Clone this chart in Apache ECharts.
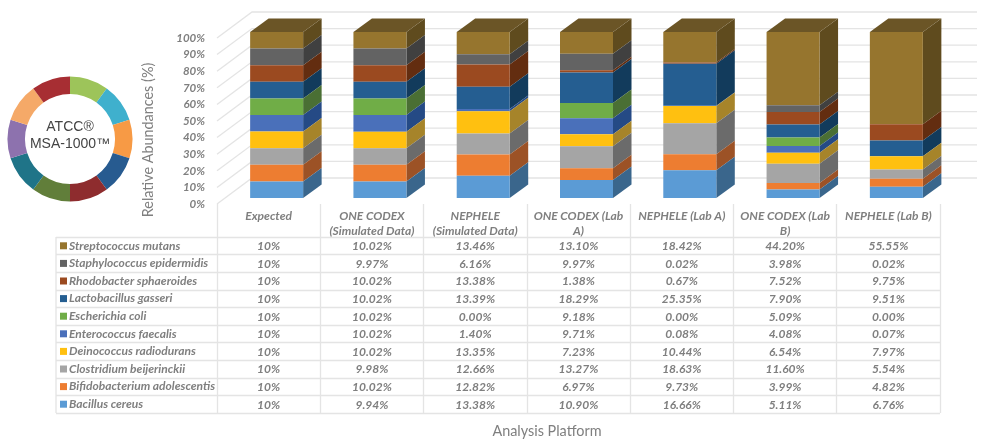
<!DOCTYPE html>
<html><head><meta charset="utf-8">
<style>html,body{margin:0;padding:0;background:#fff}#c{width:1000px;height:444px}</style>
<script src="https://cdn.jsdelivr.net/npm/echarts@6/dist/echarts.min.js"></script>
</head><body><div id="c"></div>
<script>
const platforms = ['Expected','ONE CODEX\n(Simulated Data)','NEPHELE\n(Simulated Data)','ONE CODEX (Lab\nA)','NEPHELE (Lab A)','ONE CODEX (Lab\nB)','NEPHELE (Lab B)'];
const species = ['Streptococcus mutans','Staphylococcus epidermidis','Rhodobacter sphaeroides','Lactobacillus gasseri','Escherichia coli','Enterococcus faecalis','Deinococcus radiodurans','Clostridium beijerinckii','Bifidobacterium adolescentis','Bacillus cereus'];
const streptococcus = [10,10.02,13.46,13.10,18.42,44.20,55.55];
const staphylococcus = [10,9.97,6.16,9.97,0.02,3.98,0.02];
const rhodobacter = [10,10.02,13.38,1.38,0.67,7.52,9.75];
const lactobacillus = [10,10.02,13.39,18.29,25.35,7.90,9.51];
const escherichia = [10,10.02,0.00,9.18,0.00,5.09,0.00];
const enterococcus = [10,10.02,1.40,9.71,0.08,4.08,0.07];
const deinococcus = [10,10.02,13.35,7.23,10.44,6.54,7.97];
const clostridium = [10,9.98,12.66,13.27,18.63,11.60,5.54];
const bifidobacterium = [10,10.02,12.82,6.97,9.73,3.99,4.82];
const bacillus = [10,9.94,13.38,10.90,16.66,5.11,6.76];
const rows = [streptococcus,staphylococcus,rhodobacter,lactobacillus,escherichia,enterococcus,deinococcus,clostridium,bifidobacterium,bacillus];
const frontColors = ['#96752e','#636363','#9b4a20','#255e91','#70ad47','#4a70ba','#ffc010','#a5a5a5','#ed7d31','#5b9bd5'];
const sideColors = ['#5f4b1e','#404040','#632d10','#123b5c','#4a6f34','#254a85','#a6842a','#6b6b6b','#9c5226','#3a668c'];
const topColor = '#6b5526';
const yTicks = [0,10,20,30,40,50,60,70,80,90,100];
const ringColors = ['#9dc45a','#3fb0cd','#f79a45','#275b90','#8e2c2e','#617e3a','#1f7488','#8d72ae','#f5a968','#a72e33'];

const GREY = '#7f7f7f', LINE = '#e4e4e4';
const FONT = 'Lato';
const BAR_W = 53, DX = 18.5, DY = 13.5, BAR_SHIFT = 8, FLOOR_LIFT = 6;
const WALL_DX = 35, WALL_DY = 26, WALL_LEN = 725;

function barSeries(rowIndex) {
  // stacked from the bottom row of the table upward
  const data = platforms.map((_, c) => {
    let start = 0;
    for (let r = rows.length - 1; r > rowIndex; r--) start += rows[r][c];
    return [c, start, start + rows[rowIndex][c]];
  });
  return {
    type: 'custom', name: species[rowIndex], xAxisIndex: 0, yAxisIndex: 0, z: 3,
    data, clip: false,
    renderItem(params, api) {
      const c = api.value(0), a = api.value(1), b = api.value(2);
      if (b - a <= 0) return null;
      const pa = api.coord([c, a]), pb = api.coord([c, b]);
      const x0 = pa[0] + BAR_SHIFT - BAR_W / 2, x1 = x0 + BAR_W;
      const y0 = pa[1] - FLOOR_LIFT, y1 = pb[1] - FLOOR_LIFT;
      const kids = [
        { type: 'polygon', shape: { points: [[x1, y0], [x1 + DX, y0 - DY], [x1 + DX, y1 - DY], [x1, y1]] }, style: { fill: sideColors[rowIndex] } },
        { type: 'rect', shape: { x: x0, y: y1, width: BAR_W, height: y0 - y1 }, style: { fill: frontColors[rowIndex] } }
      ];
      if (rowIndex === 0) kids.push({ type: 'polygon', shape: { points: [[x0, y1], [x1, y1], [x1 + DX, y1 - DY], [x0 + DX, y1 - DY]] }, style: { fill: topColor } });
      return { type: 'group', children: kids };
    }
  };
}

const wallSeries = {
  type: 'custom', name: 'gridlines', xAxisIndex: 0, yAxisIndex: 0, z: 1, clip: false, silent: true,
  data: yTicks.map(v => [0, v]),
  renderItem(params, api) {
    const p = api.coord([0, api.value(1)]);
    const x = p[0] - api.size([1, 0])[0] / 2;
    return { type: 'polyline', shape: { points: [[x, p[1]], [x + WALL_DX, p[1] - WALL_DY], [x + WALL_DX + WALL_LEN, p[1] - WALL_DY]] },
      style: { stroke: LINE, lineWidth: 1.3, fill: null } };
  }
};

const cellData = [];
rows.forEach((row, r) => row.forEach((v, c) => cellData.push([c, r, c === 0 ? v + '%' : v.toFixed(2) + '%'])));
const cellSeries = {
  type: 'custom', name: 'table', xAxisIndex: 1, yAxisIndex: 1, z: 4, silent: true,
  data: cellData,
  encode: { x: 0, y: 1 },
  renderItem(params, api) {
    const p = api.coord([api.value(0), api.value(1)]);
    return { type: 'text', style: { x: p[0], y: p[1] + 0.5, text: cellData[params.dataIndex][2], align: 'center', verticalAlign: 'middle',
      fill: GREY, font: 'italic bold 12px ' + FONT } };
  }
};

const rich = { t: { color: GREY, fontFamily: FONT, fontStyle: 'italic', fontWeight: 'bold', fontSize: 12, padding: [0,0,0,2] } };
species.forEach((s, i) => rich['k' + i] = { backgroundColor: frontColors[i], width: 7, height: 7 });

const option = {
  animation: false,
  backgroundColor: '#fff',
  grid: [
    { left: 217, width: 723, top: 38, height: 166 },
    { left: 217, width: 723, top: 237, height: 176 }
  ],
  xAxis: [
    { type: 'category', gridIndex: 0, data: platforms,
      axisLine: { show: false }, axisTick: { show: true, length: 33, lineStyle: { color: LINE, width: 1.3 } },
      axisLabel: { interval: 0, margin: 5, color: GREY, fontFamily: FONT, fontStyle: 'italic', fontWeight: 'bold', fontSize: 12, lineHeight: 15 } },
    { type: 'category', gridIndex: 1, data: platforms.map((p, i) => i),
      axisLine: { show: false }, axisTick: { show: false }, axisLabel: { show: false },
      splitLine: { show: true, interval: 0, lineStyle: { color: LINE, width: 1.3 } } }
  ],
  yAxis: [
    { type: 'value', gridIndex: 0, min: 0, max: 100, interval: 10,
      axisLine: { show: false }, axisTick: { show: false }, splitLine: { show: false },
      axisLabel: { margin: 12, formatter: '{value}%', color: GREY, fontFamily: FONT, fontStyle: 'italic', fontWeight: 'bold', fontSize: 11.5 } },
    { type: 'category', gridIndex: 1, inverse: true, data: species,
      axisLine: { show: false },
      axisTick: { show: true, length: 161, lineStyle: { color: LINE, width: 1.3 } },
      splitLine: { show: true, interval: 0, lineStyle: { color: LINE, width: 1.3 } },
      axisLabel: { interval: 0, align: 'left', margin: 157, rich,
        formatter: (v, i) => '{k' + i + '|}{t|' + v + '}' } }
  ],
  series: [
    wallSeries,
    ...rows.map((_, i) => barSeries(i)),
    cellSeries,
    { type: 'pie', name: 'ATCC MSA-1000', center: [70, 139], radius: [45, 62.5], startAngle: 90, silent: true,
      label: { show: false }, labelLine: { show: false }, itemStyle: { borderWidth: 0 },
      data: species.map((s, i) => ({ name: s, value: 10, itemStyle: { color: ringColors[i] } })) }
  ],
  graphic: [
    { type: 'text', style: { x: 70, y: 127, text: 'ATCC®', align: 'center', verticalAlign: 'middle', fill: '#444', font: '14px "Liberation Sans"' }, z: 10 },
    { type: 'text', style: { x: 70, y: 144.5, text: 'MSA-1000™', align: 'center', verticalAlign: 'middle', fill: '#444', font: '14px "Liberation Sans"' }, z: 10 },
    { type: 'text', x: 148, y: 140, rotation: Math.PI / 2, style: { x: 0, y: 0, text: 'Relative Abundances (%)', align: 'center', verticalAlign: 'middle', fill: GREY, font: '14.4px ' + FONT }, z: 10 },
    { type: 'text', style: { x: 547, y: 431, text: 'Analysis Platform', align: 'center', verticalAlign: 'middle', fill: GREY, font: '14.4px ' + FONT }, z: 10 },
    { type: 'line', shape: { x1: 56, y1: 237, x2: 56, y2: 413 }, style: { stroke: LINE, lineWidth: 1.3 }, z: 0 }
  ]
};
echarts.init(document.getElementById('c'), null, { renderer: 'canvas' }).setOption(option);
</script></body></html>
